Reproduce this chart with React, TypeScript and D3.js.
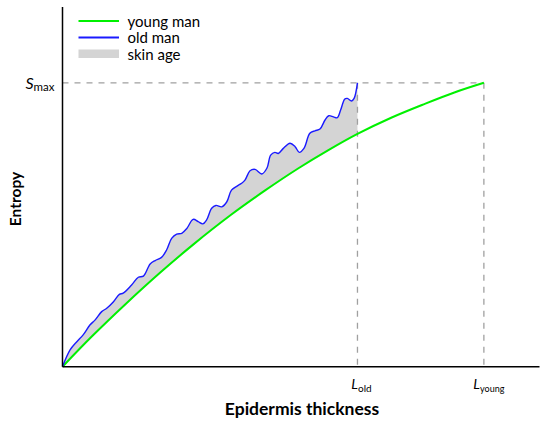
import React from 'react';
import * as d3 from 'd3';

// young man: thickness vs entropy (L_young = 1, S_max = 1)
const youngX = [0, 0.07, 0.15, 0.23, 0.31, 0.4, 0.48, 0.56, 0.63, 0.7, 0.78, 0.86, 0.93, 1.0];
const youngY = [0, 0.107, 0.221, 0.329, 0.43, 0.535, 0.62, 0.699, 0.762, 0.82, 0.877, 0.926, 0.966, 1.0];

// old man: wavy curve ending at L_old
const oldX = [
  0, 0.018, 0.034, 0.049, 0.065, 0.077, 0.093, 0.105, 0.121, 0.135, 0.144, 0.164, 0.18, 0.192,
  0.208, 0.22, 0.235, 0.247, 0.259, 0.271, 0.283, 0.295, 0.31, 0.322, 0.333, 0.342, 0.354, 0.364,
  0.378, 0.39, 0.401, 0.415, 0.425, 0.433, 0.445, 0.457, 0.473, 0.485, 0.494, 0.504, 0.512, 0.524,
  0.54, 0.552, 0.562, 0.573, 0.587, 0.599, 0.611, 0.623, 0.632, 0.643, 0.652, 0.66, 0.67, 0.676,
  0.686, 0.692, 0.7,
];
const oldY = [
  0, 0.059, 0.088, 0.112, 0.147, 0.164, 0.194, 0.206, 0.229, 0.255, 0.259, 0.288, 0.315, 0.319,
  0.362, 0.374, 0.385, 0.411, 0.452, 0.467, 0.47, 0.487, 0.519, 0.511, 0.503, 0.517, 0.558, 0.568,
  0.563, 0.581, 0.622, 0.637, 0.646, 0.657, 0.69, 0.695, 0.679, 0.699, 0.745, 0.755, 0.751, 0.769,
  0.787, 0.775, 0.755, 0.769, 0.822, 0.831, 0.837, 0.869, 0.884, 0.88, 0.877, 0.904, 0.943, 0.945,
  0.936, 0.945, 1.0,
];

const L_OLD = 0.7;
const L_YOUNG = 1.0;
const S_MAX = 1.0;

const legendLabels = ['young man', 'old man', 'skin age'];

const GREEN = '#00f000';
const BLUE = '#1a1aff';
const GREY = '#d4d4d4';
const DASH = '#a0a0a0';
const FONT = 'Lato, "Open Sans", sans-serif';

const width = 550;
const height = 423;

const App: React.FC = () => {
  const x = d3.scaleLinear().domain([0, 1.132]).range([62.5, 539.5]);
  const y = d3.scaleLinear().domain([0, 1.267]).range([366.7, 7]);

  const young: [number, number][] = youngX.map((v, i) => [v, youngY[i]]);
  const old: [number, number][] = oldX.map((v, i) => [v, oldY[i]]);

  const curve = d3.curveCatmullRom.alpha(0.5);

  const line = d3.line<[number, number]>()
    .x((d) => x(d[0]))
    .y((d) => y(d[1]))
    .curve(curve);

  const area = d3.area<[number, number]>()
    .x((d) => x(d[0]))
    .y0(y(0))
    .y1((d) => y(d[1]))
    .curve(curve);

  const legendColors = [GREEN, BLUE, GREY];

  return (
    <svg width={width} height={height} style={{ display: 'block', position: 'absolute', left: 0, top: 0 }}>
      <rect width={width} height={height} fill="#fff" />

      {/* 皮肤年龄区域：老人曲线下方灰色，再用白色盖掉年轻人曲线下方 */}
      <path d={area(old) ?? ''} fill={GREY} />
      <path d={area(young) ?? ''} fill="#fff" />

      {/* 虚线 */}
      <line x1={x(0)} x2={x(L_YOUNG)} y1={y(S_MAX)} y2={y(S_MAX)} stroke={DASH} strokeWidth={1.3} strokeDasharray="6,6" />
      <line x1={x(L_OLD)} x2={x(L_OLD)} y1={y(S_MAX)} y2={y(0)} stroke={DASH} strokeWidth={1.3} strokeDasharray="6,6" />
      <line x1={x(L_YOUNG)} x2={x(L_YOUNG)} y1={y(S_MAX)} y2={y(0)} stroke={DASH} strokeWidth={1.3} strokeDasharray="6,6" />

      <path d={line(young) ?? ''} fill="none" stroke={GREEN} strokeWidth={2} />
      <path d={line(old) ?? ''} fill="none" stroke={BLUE} strokeWidth={1.4} />

      {/* 坐标轴 */}
      <line x1={x(0)} x2={x(0)} y1={y(1.267)} y2={y(0)} stroke="#000" strokeWidth={1.5} />
      <line x1={x(0)} x2={x(1.132)} y1={y(0)} y2={y(0)} stroke="#000" strokeWidth={1.5} />

      {/* 刻度标签 */}
      <text x={x(0) - 8} y={y(S_MAX) + 6} textAnchor="end" fontFamily={FONT} fill="#000">
        <tspan fontStyle="italic" fontSize={16}>S</tspan>
        <tspan fontSize={11.5} dy={2.5}>max</tspan>
      </text>
      <text x={x(L_OLD) + 4} y={y(0) + 22} textAnchor="middle" fontFamily={FONT} fill="#000">
        <tspan fontStyle="italic" fontSize={14}>L</tspan>
        <tspan fontSize={10} dy={3}>old</tspan>
      </text>
      <text x={x(L_YOUNG) + 5} y={y(0) + 22} textAnchor="middle" fontFamily={FONT} fill="#000">
        <tspan fontStyle="italic" fontSize={14}>L</tspan>
        <tspan fontSize={9} dy={3}>young</tspan>
      </text>

      {/* 轴标题 */}
      <text x={302} y={415} textAnchor="middle" fontFamily={FONT} fontWeight="bold" fontSize={17.5} fill="#000">
        Epidermis thickness
      </text>
      <text transform="translate(20.5,199) rotate(-90)" textAnchor="middle" fontFamily={FONT} fontWeight="bold" fontSize={15.5} fill="#000">
        Entropy
      </text>

      {/* 图例 */}
      {legendLabels.map((label, i) => (
        <g key={label} transform={`translate(78.5,${21 + i * 16.5})`}>
          {i < 2 ? (
            <line x1={0} x2={40.5} y1={0} y2={0} stroke={legendColors[i]} strokeWidth={2} />
          ) : (
            <rect x={0} y={-4.5} width={40.5} height={8.5} fill={legendColors[i]} />
          )}
          <text x={49} y={5.5} fontFamily={FONT} fontSize={15} fill="#000">{label}</text>
        </g>
      ))}
    </svg>
  );
};

export default App;
